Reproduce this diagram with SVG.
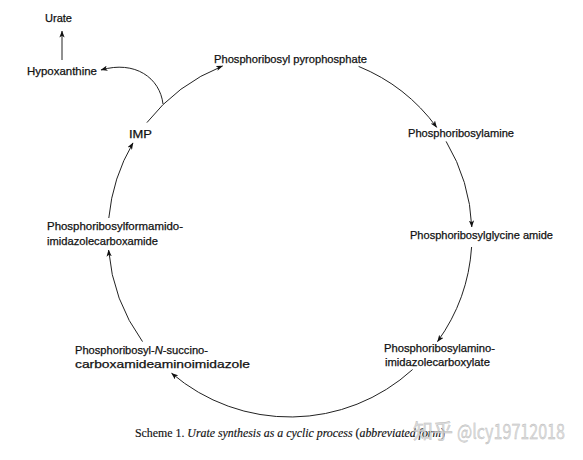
<svg xmlns="http://www.w3.org/2000/svg" width="583" height="460" viewBox="0 0 583 460">
<style>
.lbl{font-family:"Liberation Sans",Arial,sans-serif;font-size:11px;fill:#111;stroke:#111;stroke-width:0.25}
.cap{font-family:"Liberation Serif","Times New Roman",serif;font-size:11.5px;fill:#111;stroke:#111;stroke-width:0.15}
.it{font-style:italic}
.c{fill:none;stroke:#222;stroke-width:1;marker-end:url(#ah)}
.wm{font-family:"Noto Sans CJK SC","Noto Sans",sans-serif;font-size:20px;fill:#d8d8d8;fill-opacity:0.85;stroke:#b8b8b8;stroke-width:0.4}
</style>
<defs>
<marker id="ah" viewBox="0 0 8 6" refX="7.5" refY="3" markerWidth="7" markerHeight="5.5" orient="auto" markerUnits="userSpaceOnUse">
<path d="M0,0 L8,3 L0,6 L2,3 z" fill="#111"/>
</marker>
</defs>
<rect width="583" height="460" fill="#fff"/>
<g id="connectors">
<path class="c" d="M146.9,122.6 A182,182 0 0 1 222.6,66"/>
<path class="c" d="M358.6,66.4 A182,182 0 0 1 436.7,127.3"/>
<path class="c" d="M446.1,141.4 A182,182 0 0 1 471.8,227"/>
<path class="c" d="M471.6,247 A182,182 0 0 1 437.5,341.6"/>
<path class="c" d="M412.6,369.5 A182,182 0 0 1 171.6,373.2"/>
<path class="c" d="M142.5,341.6 A182,182 0 0 1 108.6,250"/>
<path class="c" d="M108.8,218 A182,182 0 0 1 133,142.9"/>
<path class="c" d="M163,104 C160,78 135,60 101,70"/>
<path class="c" d="M62,60 L62,31"/>
</g>
<g id="urate"><text class="lbl" x="45" y="22" textLength="27" lengthAdjust="spacingAndGlyphs">Urate</text></g>
<g id="hypoxanthine"><text class="lbl" x="27" y="75" textLength="70" lengthAdjust="spacingAndGlyphs">Hypoxanthine</text></g>
<g id="imp"><text class="lbl" x="129" y="138" textLength="23" lengthAdjust="spacingAndGlyphs">IMP</text></g>
<g id="prpp"><text class="lbl" x="214" y="63" textLength="153" lengthAdjust="spacingAndGlyphs">Phosphoribosyl pyrophosphate</text></g>
<g id="pra"><text class="lbl" x="408" y="137" textLength="106" lengthAdjust="spacingAndGlyphs">Phosphoribosylamine</text></g>
<g id="gar"><text class="lbl" x="410" y="239" textLength="143" lengthAdjust="spacingAndGlyphs">Phosphoribosylglycine amide</text></g>
<g id="air">
<text class="lbl" x="384" y="352" textLength="111" lengthAdjust="spacingAndGlyphs">Phosphoribosylamino-</text>
<text class="lbl" x="385" y="366" textLength="105" lengthAdjust="spacingAndGlyphs">imidazolecarboxylate</text>
</g>
<g id="saicar">
<text class="lbl" x="75" y="354" textLength="133" lengthAdjust="spacingAndGlyphs">Phosphoribosyl-<tspan class="it">N</tspan>-succino-</text>
<text class="lbl" x="75" y="368" textLength="175" lengthAdjust="spacingAndGlyphs">carboxamideaminoimidazole</text>
</g>
<g id="faicar">
<text class="lbl" x="47" y="230" textLength="136" lengthAdjust="spacingAndGlyphs">Phosphoribosylformamido-</text>
<text class="lbl" x="47" y="245" textLength="111" lengthAdjust="spacingAndGlyphs">imidazolecarboxamide</text>
</g>
<g id="caption"><text class="cap" x="135" y="437" textLength="310" lengthAdjust="spacingAndGlyphs">Scheme 1. <tspan class="it">Urate synthesis as a cyclic process</tspan> (<tspan class="it">abbreviated form</tspan>)</text></g>
<g id="watermark"><text class="wm" x="413" y="439">知乎 <tspan x="457" textLength="108" lengthAdjust="spacingAndGlyphs">@lcy19712018</tspan></text></g>
</svg>
